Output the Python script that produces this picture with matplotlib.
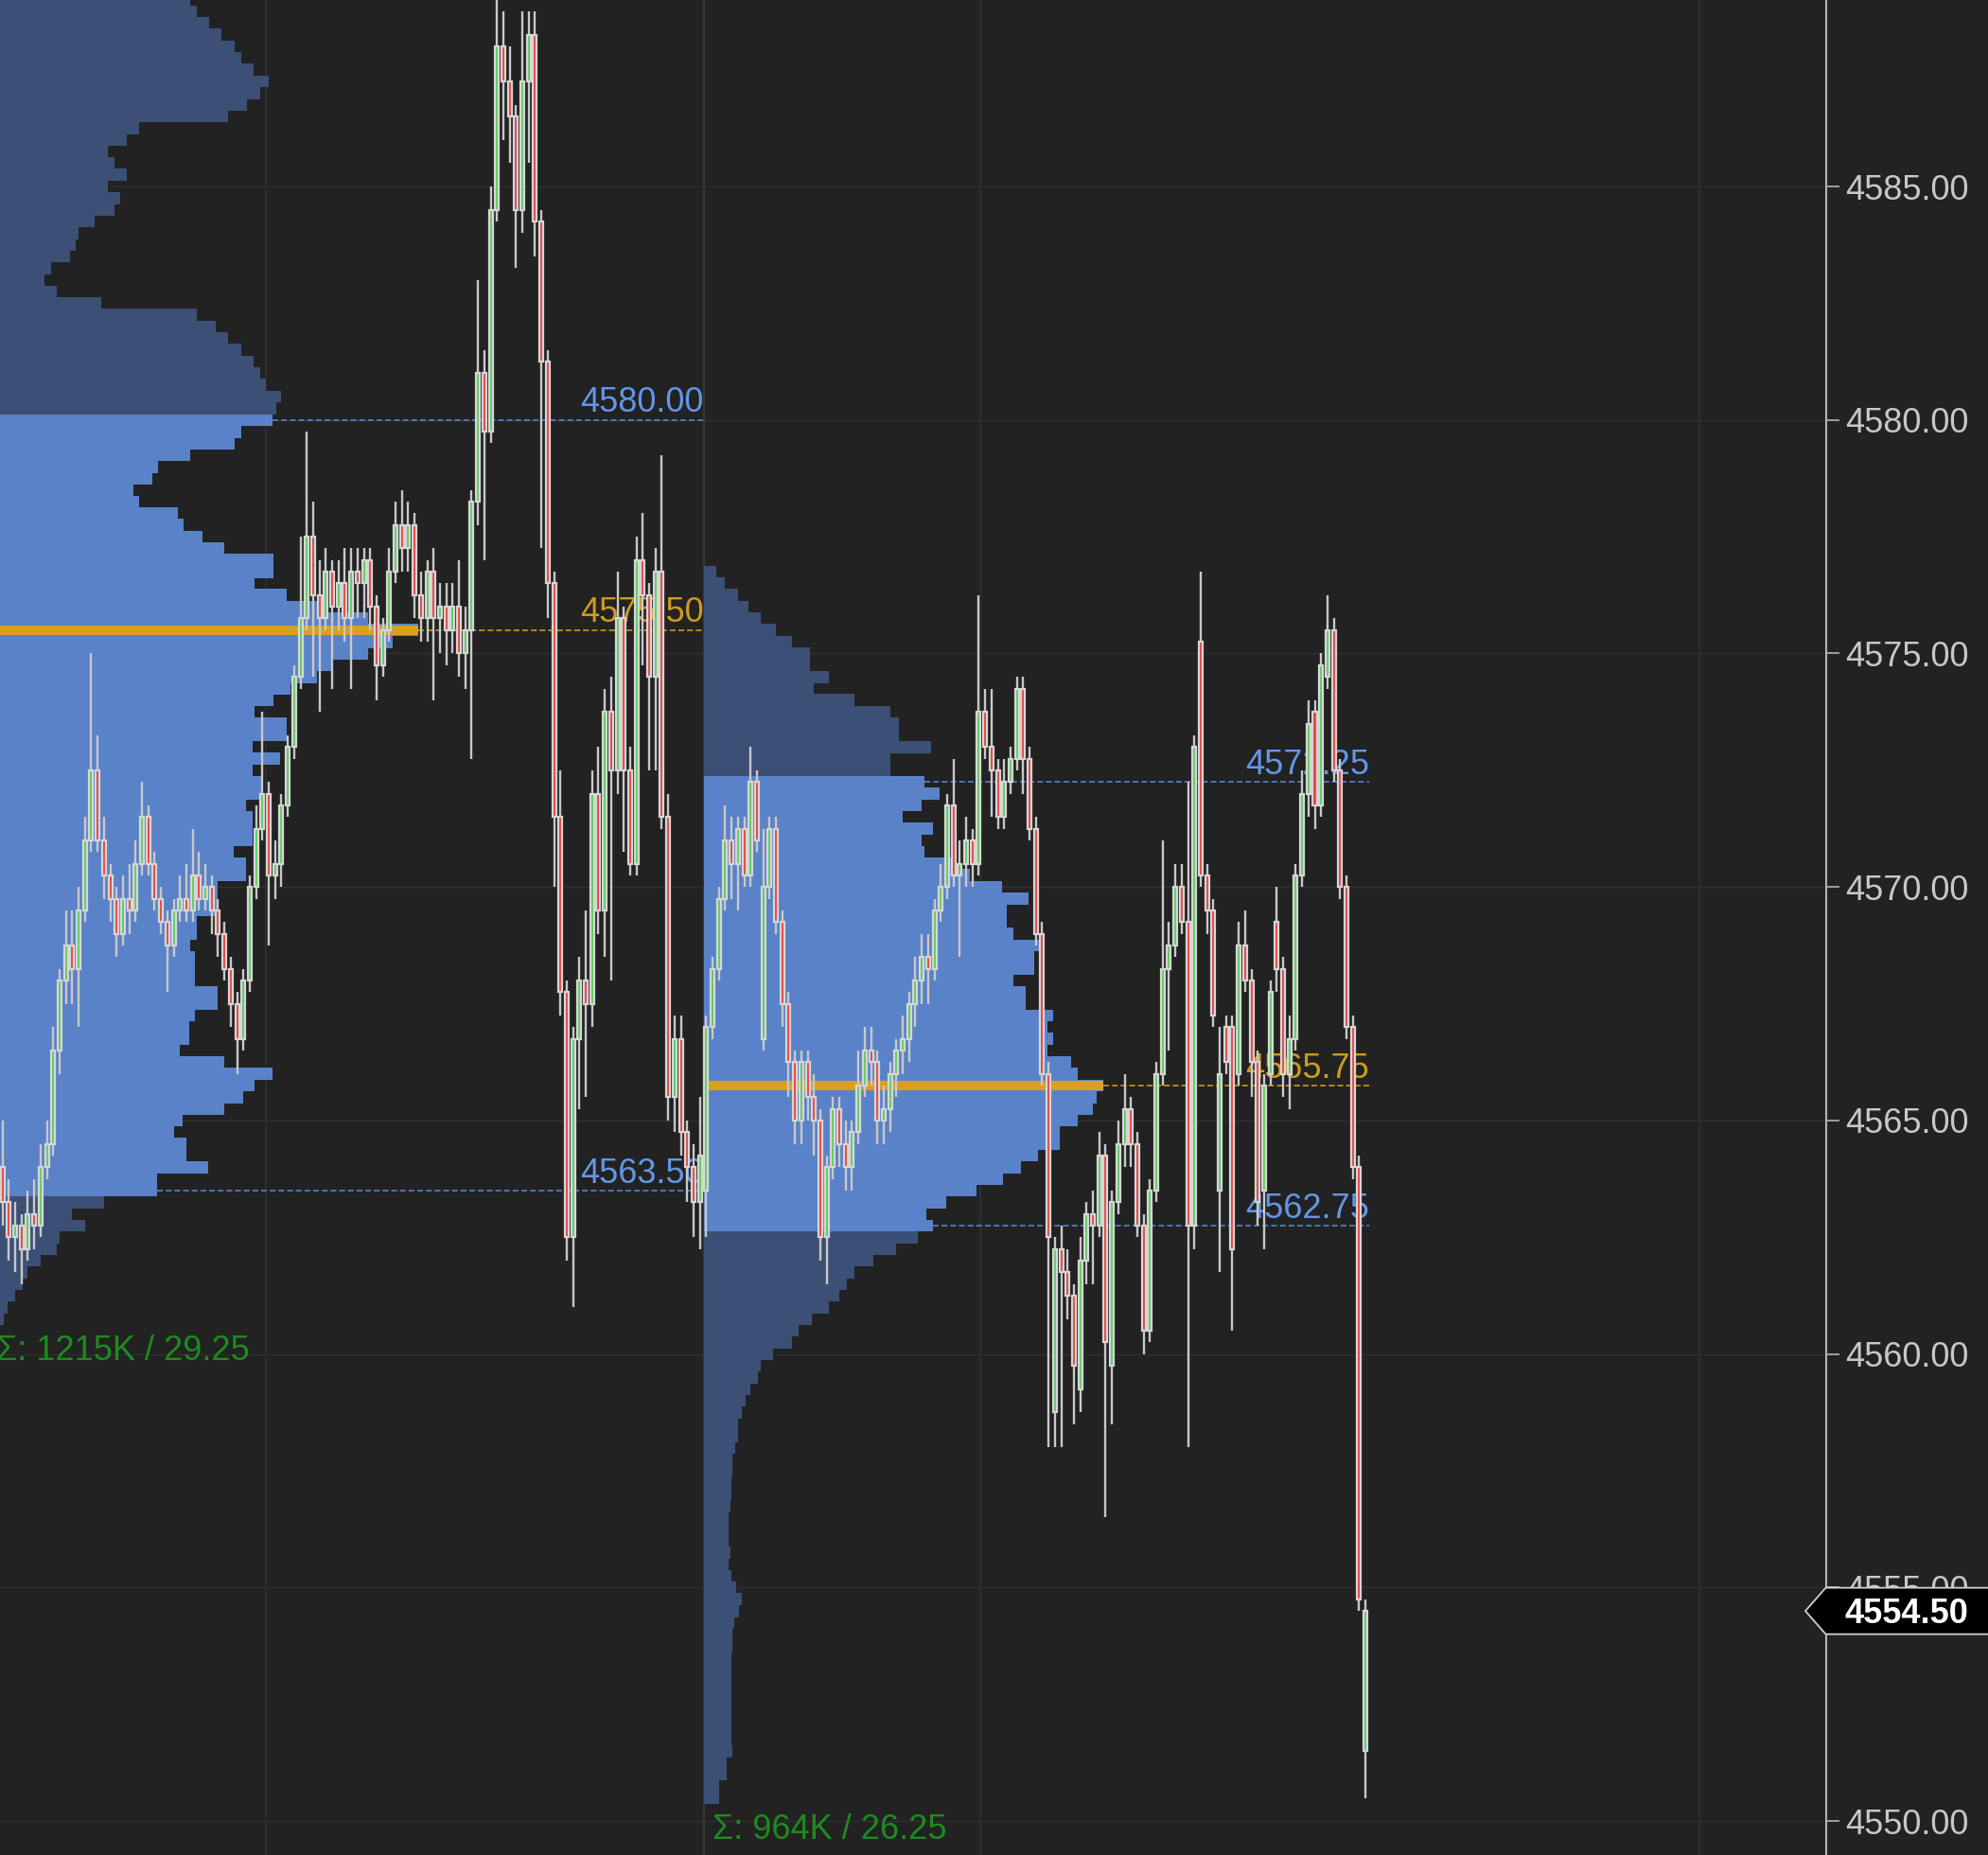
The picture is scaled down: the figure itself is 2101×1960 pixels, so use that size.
import numpy as np
import matplotlib
matplotlib.use("Agg")
import matplotlib.pyplot as plt
from matplotlib.patches import Polygon

plt.rcParams['font.family'] = ['Liberation Sans', 'DejaVu Sans']

# ---------------- DATA ----------------
opens = [
    4564.0, 4563.25, 4562.5, 4562.75, 4562.25, 4563.0, 4562.75, 4564.0, 4564.5, 4566.5,
    4568.0, 4568.75, 4568.25, 4569.5, 4571.0, 4572.5, 4571.0, 4570.25, 4569.75, 4569.0,
    4569.75, 4569.5, 4570.5, 4571.5, 4570.5, 4569.75, 4569.25, 4568.75, 4569.5, 4569.75,
    4569.5, 4570.25, 4569.75, 4570.0, 4569.5, 4569.0, 4568.25, 4567.5, 4566.75, 4568.0,
    4570.0, 4571.25, 4572.0, 4570.25, 4570.5, 4571.75, 4573.0, 4574.5, 4575.75, 4577.5,
    4576.25, 4575.75, 4576.75, 4576.0, 4576.5, 4575.75, 4576.75, 4576.5, 4577.0, 4576.0,
    4574.75, 4575.5, 4576.75, 4577.75, 4577.25, 4577.75, 4576.25, 4575.75, 4576.75, 4575.75,
    4576.0, 4575.5, 4576.0, 4575.0, 4575.5, 4578.25, 4581.0, 4579.75, 4584.5, 4588.0,
    4587.25, 4586.5, 4584.5, 4587.25, 4588.25, 4584.25, 4581.25, 4576.5, 4571.5, 4567.75,
    4562.5, 4566.75, 4568.0, 4567.5, 4572.0, 4569.5, 4573.75, 4572.5, 4575.75, 4572.5,
    4570.5, 4577.0, 4576.25, 4574.5, 4576.75, 4571.5, 4565.5, 4566.75, 4564.75, 4564.0,
    4563.25, 4563.5, 4567.0, 4568.25, 4569.75, 4571.0, 4570.5, 4571.25, 4570.25, 4572.25,
    4566.75, 4570.0, 4571.25, 4569.25, 4567.5, 4566.25, 4565.0, 4566.25, 4565.5, 4565.0,
    4562.5, 4564.0, 4565.25, 4564.5, 4564.0, 4564.75, 4565.75, 4566.5, 4566.25, 4565.0,
    4565.25, 4566.0, 4566.5, 4566.75, 4567.5, 4568.0, 4568.5, 4568.25, 4569.5, 4570.0,
    4571.75, 4570.25, 4570.5, 4571.0, 4570.5, 4573.75, 4573.0, 4572.5, 4571.5, 4572.25,
    4572.75, 4574.25, 4572.75, 4571.25, 4569.0, 4566.0, 4558.75, 4562.25, 4561.75, 4561.25,
    4559.25, 4562.0, 4563.0, 4562.75, 4564.25, 4559.75, 4563.25, 4564.5, 4565.25, 4564.5,
    4562.75, 4560.5, 4563.5, 4566.0, 4568.25, 4568.75, 4570.0, 4569.25, 4562.75, 4575.25,
    4570.25, 4569.5, 4563.5, 4567.0, 4567.0, 4566.0, 4568.75, 4568.0, 4566.25, 4563.5,
    4566.0, 4569.25, 4568.25, 4566.0, 4566.75, 4570.25, 4572.0, 4573.75, 4571.75, 4574.5,
    4575.5, 4572.5, 4570.0, 4567.0, 4564.0, 4551.5,
]
highs = [
    4565.0, 4563.75, 4563.25, 4563.0, 4563.5, 4563.75, 4564.5, 4565.0, 4567.0, 4568.25,
    4569.5, 4569.5, 4570.0, 4571.5, 4575.0, 4573.25, 4571.5, 4570.5, 4570.0, 4570.25,
    4570.5, 4571.0, 4572.25, 4571.75, 4570.75, 4570.0, 4569.5, 4569.75, 4570.25, 4570.5,
    4571.25, 4570.75, 4570.5, 4570.25, 4569.75, 4569.25, 4568.5, 4567.75, 4568.25, 4570.25,
    4571.75, 4573.75, 4572.25, 4571.0, 4572.0, 4573.25, 4574.75, 4577.5, 4579.75, 4578.25,
    4577.0, 4577.25, 4577.0, 4577.0, 4577.25, 4577.25, 4577.25, 4577.25, 4577.25, 4576.25,
    4575.75, 4577.25, 4578.25, 4578.5, 4578.25, 4578.0, 4576.75, 4577.0, 4577.25, 4576.5,
    4576.5, 4576.5, 4577.0, 4576.0, 4578.5, 4583.0, 4581.5, 4585.0, 4589.0, 4588.75,
    4588.0, 4586.75, 4588.75, 4588.75, 4588.75, 4584.5, 4581.5, 4576.75, 4572.5, 4568.0,
    4567.0, 4568.5, 4569.5, 4572.5, 4573.0, 4574.25, 4574.5, 4576.75, 4576.0, 4573.0,
    4577.5, 4578.0, 4576.5, 4577.25, 4579.25, 4572.0, 4567.25, 4567.25, 4565.0, 4564.5,
    4565.5, 4567.25, 4568.5, 4570.0, 4571.75, 4571.5, 4571.5, 4571.5, 4573.0, 4572.5,
    4571.25, 4571.5, 4571.5, 4569.5, 4567.75, 4566.5, 4566.5, 4566.5, 4566.0, 4565.25,
    4564.25, 4565.5, 4565.5, 4565.0, 4565.0, 4566.5, 4567.0, 4567.0, 4566.5, 4565.75,
    4566.25, 4566.75, 4567.25, 4567.75, 4568.5, 4569.0, 4569.0, 4569.75, 4570.5, 4572.0,
    4572.75, 4571.0, 4571.5, 4571.25, 4576.25, 4574.25, 4574.25, 4572.75, 4572.75, 4573.0,
    4574.5, 4574.5, 4573.0, 4571.5, 4569.25, 4566.25, 4562.5, 4562.75, 4562.25, 4561.5,
    4562.5, 4563.25, 4563.5, 4564.75, 4564.5, 4563.5, 4565.0, 4566.0, 4565.5, 4564.75,
    4563.0, 4563.75, 4566.25, 4571.0, 4569.25, 4570.5, 4570.5, 4572.25, 4573.25, 4576.75,
    4570.5, 4569.75, 4567.0, 4567.25, 4567.25, 4569.25, 4569.5, 4568.25, 4566.5, 4566.0,
    4568.0, 4570.0, 4568.5, 4567.25, 4570.5, 4572.5, 4574.0, 4574.0, 4575.0, 4576.25,
    4575.75, 4572.75, 4570.25, 4567.25, 4564.25, 4554.75,
]
lows = [
    4562.75, 4562.0, 4561.75, 4561.5, 4562.0, 4562.25, 4562.5, 4563.75, 4564.25, 4566.0,
    4567.5, 4567.5, 4567.0, 4569.25, 4570.75, 4570.75, 4569.75, 4569.25, 4568.5, 4568.75,
    4569.0, 4569.25, 4570.25, 4570.25, 4569.5, 4569.0, 4567.75, 4568.5, 4569.25, 4569.25,
    4569.25, 4569.5, 4569.5, 4569.0, 4568.5, 4568.0, 4567.0, 4566.0, 4566.5, 4567.75,
    4569.75, 4571.0, 4568.75, 4569.75, 4570.0, 4571.5, 4572.75, 4574.25, 4575.5, 4574.5,
    4573.75, 4575.5, 4574.25, 4575.5, 4575.25, 4574.25, 4575.75, 4575.75, 4575.5, 4574.0,
    4574.5, 4575.25, 4576.5, 4576.75, 4576.75, 4575.75, 4575.25, 4575.25, 4574.0, 4575.0,
    4574.75, 4575.0, 4574.5, 4574.25, 4572.75, 4577.75, 4577.0, 4579.5, 4584.25, 4586.0,
    4585.5, 4583.25, 4584.0, 4585.5, 4583.5, 4577.25, 4575.75, 4570.0, 4567.25, 4562.0,
    4561.0, 4565.25, 4565.5, 4567.0, 4569.0, 4568.5, 4568.0, 4572.0, 4570.75, 4570.25,
    4570.25, 4574.75, 4572.5, 4572.5, 4571.25, 4565.0, 4564.75, 4564.25, 4563.25, 4562.5,
    4562.25, 4562.5, 4566.75, 4568.0, 4569.5, 4569.75, 4569.5, 4570.0, 4570.0, 4570.75,
    4566.5, 4569.75, 4569.0, 4567.0, 4565.5, 4564.5, 4564.5, 4565.0, 4564.25, 4562.0,
    4561.5, 4563.75, 4564.0, 4563.5, 4563.5, 4564.5, 4565.5, 4565.75, 4564.5, 4564.5,
    4564.75, 4565.5, 4566.0, 4566.25, 4567.0, 4567.5, 4567.5, 4568.0, 4569.25, 4569.75,
    4570.0, 4568.5, 4570.0, 4570.0, 4570.25, 4572.75, 4571.5, 4571.25, 4571.25, 4572.0,
    4572.5, 4572.0, 4571.0, 4568.75, 4565.75, 4558.0, 4558.0, 4558.0, 4560.75, 4558.5,
    4558.75, 4561.5, 4561.5, 4562.5, 4556.5, 4558.5, 4563.0, 4564.0, 4564.0, 4562.5,
    4560.0, 4560.25, 4563.25, 4565.75, 4566.5, 4568.5, 4569.0, 4558.0, 4562.25, 4570.0,
    4569.0, 4567.0, 4561.75, 4566.0, 4560.5, 4565.75, 4567.75, 4565.5, 4562.75, 4562.25,
    4565.75, 4567.75, 4565.5, 4565.25, 4566.5, 4570.0, 4571.5, 4571.25, 4571.5, 4574.25,
    4572.25, 4569.75, 4566.75, 4563.75, 4554.5, 4550.5,
]
closes = [
    4563.25, 4562.5, 4562.75, 4562.25, 4563.0, 4562.75, 4564.0, 4564.5, 4566.5, 4568.0,
    4568.75, 4568.25, 4569.5, 4571.0, 4572.5, 4571.0, 4570.25, 4569.75, 4569.0, 4569.75,
    4569.5, 4570.5, 4571.5, 4570.5, 4569.75, 4569.25, 4568.75, 4569.5, 4569.75, 4569.5,
    4570.25, 4569.75, 4570.0, 4569.5, 4569.0, 4568.25, 4567.5, 4566.75, 4568.0, 4570.0,
    4571.25, 4572.0, 4570.25, 4570.5, 4571.75, 4573.0, 4574.5, 4575.75, 4577.5, 4576.25,
    4575.75, 4576.75, 4576.0, 4576.5, 4575.75, 4576.75, 4576.5, 4577.0, 4576.0, 4574.75,
    4575.5, 4576.75, 4577.75, 4577.25, 4577.75, 4576.25, 4575.75, 4576.75, 4575.75, 4576.0,
    4575.5, 4576.0, 4575.0, 4575.5, 4578.25, 4581.0, 4579.75, 4584.5, 4588.0, 4587.25,
    4586.5, 4584.5, 4587.25, 4588.25, 4584.25, 4581.25, 4576.5, 4571.5, 4567.75, 4562.5,
    4566.75, 4568.0, 4567.5, 4572.0, 4569.5, 4573.75, 4572.5, 4575.75, 4572.5, 4570.5,
    4577.0, 4576.25, 4574.5, 4576.75, 4571.5, 4565.5, 4566.75, 4564.75, 4564.0, 4563.25,
    4564.25, 4567.0, 4568.25, 4569.75, 4571.0, 4570.5, 4571.25, 4570.25, 4572.25, 4571.0,
    4570.0, 4571.25, 4569.25, 4567.5, 4566.25, 4565.0, 4566.25, 4565.5, 4565.0, 4562.5,
    4564.0, 4565.25, 4564.5, 4564.0, 4564.75, 4565.75, 4566.5, 4566.25, 4565.0, 4565.25,
    4566.0, 4566.5, 4566.75, 4567.5, 4568.0, 4568.5, 4568.25, 4569.5, 4570.0, 4571.75,
    4570.25, 4570.5, 4571.0, 4570.5, 4573.75, 4573.0, 4572.5, 4571.5, 4572.25, 4572.75,
    4574.25, 4572.75, 4571.25, 4569.0, 4566.0, 4562.5, 4562.25, 4561.75, 4561.25, 4559.75,
    4562.0, 4563.0, 4562.75, 4564.25, 4560.25, 4563.25, 4564.5, 4565.25, 4564.5, 4562.75,
    4560.5, 4563.5, 4566.0, 4568.25, 4568.75, 4570.0, 4569.25, 4562.75, 4573.0, 4570.25,
    4569.5, 4567.25, 4566.0, 4566.25, 4562.25, 4568.75, 4568.0, 4566.25, 4563.25, 4565.75,
    4567.75, 4568.25, 4566.0, 4566.75, 4570.25, 4572.0, 4573.5, 4571.75, 4574.75, 4575.5,
    4572.5, 4570.0, 4567.0, 4564.0, 4554.75, 4554.5,
]

session_starts = [0, 111]          # candle index where each session begins
session_ends = [110, 215]          # last candle index of each session
time_grid = [41.6, 154.2, 267.6]   # vertical time grid lines (candle units)

tick_size = 0.25
# volume profile 1 (levels from 4560.75 upward, one value per tick)
vp1_bottom = 4560.75
vp1_volume = [
    3, 6, 12, 18, 22, 32, 45, 47, 67, 57,
    82, 124, 124, 164, 147, 147, 137, 144, 177, 192,
    201, 215, 177, 142, 149, 149, 154, 172, 172, 154,
    154, 154, 150, 155, 155, 172, 172, 172, 194, 194,
    184, 199, 199, 199, 194, 206, 206, 199, 221, 199,
    226, 226, 201, 216, 229, 250, 262, 290, 310, 330,
    290, 250, 226, 201, 216, 216, 177, 160, 145, 140,
    110, 105, 120, 125, 150, 185, 190, 215, 218, 222,
    210, 205, 200, 190, 180, 170, 155, 80, 45, 35,
    40, 55, 60, 62, 75, 90, 95, 85, 100, 90,
    85, 100, 110, 180, 195, 205, 212, 200, 190, 185,
    175, 165, 155, 150, 140, 120, 100, 80,
]
vp1_poc, vp1_vah, vp1_val = 4575.50, 4580.00, 4563.50
vp1_label = "Σ: 1215K / 29.25"

# volume profile 2 (levels from 4550.50 upward)
vp2_bottom = 4550.50
vp2_volume = [
    12, 12, 18, 18, 23, 22, 22, 22, 22, 22,
    22, 22, 22, 23, 23, 24, 28, 30, 26, 22,
    20, 21, 20, 20, 20, 21, 22, 22, 23, 23,
    25, 27, 27, 30, 33, 37, 43, 45, 55, 70,
    75, 85, 99, 107, 113, 119, 134, 152, 169, 181,
    176, 191, 215, 236, 250, 264, 281, 281, 295, 307,
    310, 315, 295, 290, 271, 276, 271, 276, 254, 254,
    244, 261, 261, 269, 244, 239, 239, 256, 235, 210,
    195, 174, 172, 181, 157, 172, 186, 174, 147, 147,
    179, 154, 154, 147, 119, 87, 99, 84, 84, 70,
    57, 45, 35, 27, 17, 10,
]
vp2_poc, vp2_vah, vp2_val = 4565.75, 4572.25, 4562.75
vp2_label = "Σ: 964K / 26.25"

price_ticks = [4550, 4555, 4560, 4565, 4570, 4575, 4580, 4585]
last_price = 4554.50

# ---------------- STYLE ----------------
BG = '#222222'
GRID = '#303030'
SEP = '#383838'
VA_COL = '#5a82c8'
OUT_COL = '#3c5076'
POC_COL = '#d9a01e'
LINE_BLUE = '#5a8ad8'
TXT_BLUE = '#6496e6'
TXT_ORANGE = '#d09a1e'
SIGMA_COL = '#1f8a1f'
BODY_EDGE = '#d6d6d6'
WICK = '#c8c8c8'
UP = '#5ccc5c'
DOWN = '#e8413c'
FS = 26

W, H = 2101, 1960
AXIS_X = 1929.5
fig = plt.figure(figsize=(W / 100, H / 100), dpi=100, facecolor=BG)
ax = fig.add_axes([0, 0, AXIS_X / W, 1])
ax.set_facecolor(BG)
ax.set_xlim(-0.4, 287.6)
ax.set_ylim(4549.275, 4588.992)
ax.set_axisbelow(True)

# grid
ax.grid(axis='y', color=GRID, lw=1.0)
for g in time_grid:
    ax.axvline(g, color=GRID, lw=1.2, zorder=0.5)
for s in session_starts[1:]:
    ax.axvline(s - 0.4, color=SEP, lw=1.6, zorder=0.5)

VOL_SCALE = 0.2


def draw_profile(bottom, vols, left, right_end, poc, vah, val, label, label_dx):
    vols = np.asarray(vols, float)
    levels = bottom + tick_size * np.arange(len(vols))
    widths = vols * VOL_SCALE
    in_va = (levels >= val - 1e-9) & (levels <= vah + 1e-9)
    colors = np.where(in_va, VA_COL, OUT_COL)
    ax.barh(levels, widths, height=tick_size * 1.04, left=left, color=colors,
            linewidth=0, zorder=1)

    def w_at(p):
        return widths[np.argmin(np.abs(levels - p))]

    ax.barh([poc], [w_at(poc)], height=0.2, left=left, color=POC_COL, lw=0, zorder=2)
    ax.hlines(poc, left + w_at(poc), right_end, colors=POC_COL,
              linestyles=(0, (4, 2)), lw=1.1, zorder=2)
    for lv in (vah, val):
        ax.hlines(lv, left + w_at(lv), right_end, colors=LINE_BLUE,
                  linestyles=(0, (4, 2)), lw=1.1, zorder=2)
    for lv, col in ((vah, TXT_BLUE), (poc, TXT_ORANGE), (val, TXT_BLUE)):
        ax.text(right_end, lv + 0.17, f"{lv:.2f}", ha='right', va='baseline',
                fontsize=FS, color=col, zorder=2)
    ax.text(left + label_dx, levels[0] - tick_size / 2 - 0.2, label, ha='left',
            va='top', fontsize=FS, color=SIGMA_COL, zorder=2)


draw_profile(vp1_bottom, vp1_volume, session_starts[0] - 0.4, session_ends[0] + 0.6,
             vp1_poc, vp1_vah, vp1_val, vp1_label, -0.6)
draw_profile(vp2_bottom, vp2_volume, session_starts[1] - 0.4, session_ends[1] + 0.6,
             vp2_poc, vp2_vah, vp2_val, vp2_label, 1.4)

# candles
o = np.asarray(opens, float)
c = np.asarray(closes, float)
hi = np.maximum(np.asarray(highs, float), np.maximum(o, c))
lo = np.minimum(np.asarray(lows, float), np.minimum(o, c))
x = np.arange(len(c))
up = c >= o
ax.vlines(x, lo, hi, colors=WICK, lw=1.7, zorder=3)
ax.bar(x, np.maximum(np.abs(c - o), 0.08), bottom=np.minimum(o, c), width=0.6,
       color=np.where(up, UP, DOWN), edgecolor=BODY_EDGE, linewidth=1.6, zorder=4)

# right price axis
ax.yaxis.tick_right()
ax.set_yticks(price_ticks)
ax.set_yticklabels([f"{t:.2f}" for t in price_ticks])
ax.tick_params(axis='y', colors='#b4b4b4', labelcolor='#c8c8c8', length=10,
               width=1.2, pad=5, labelsize=FS, direction='out')
ax.set_xticks([])
for s in ['top', 'left', 'bottom']:
    ax.spines[s].set_visible(False)
ax.spines['right'].set_color('#b4b4b4')
ax.spines['right'].set_linewidth(1.5)

# current price marker
ov = fig.add_axes([0, 0, 1, 1], facecolor='none')
ov.set_xlim(0, W)
ov.set_ylim(ax.get_ylim())
ov.axis('off')
hh = 24.5 / 49.35
poly = Polygon([(1908, last_price), (AXIS_X, last_price + hh), (W + 5, last_price + hh),
                (W + 5, last_price - hh), (AXIS_X, last_price - hh)], closed=True,
               facecolor='black', edgecolor='#d0d0d0', lw=1.3, zorder=5)
ov.add_patch(poly)
ov.text(1950, last_price - 0.26, f"{last_price:.2f}", color='white', fontsize=FS,
        fontweight='bold', ha='left', va='baseline', zorder=6)

fig.savefig('out.png', dpi=100, facecolor=BG)
